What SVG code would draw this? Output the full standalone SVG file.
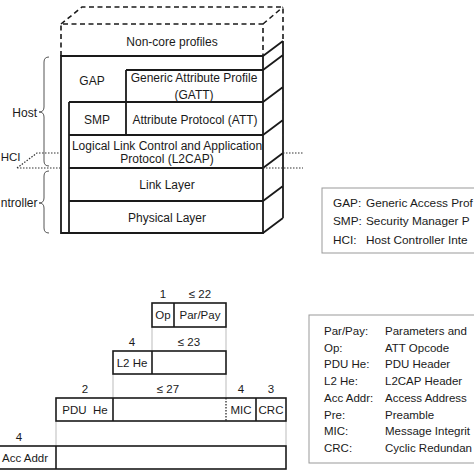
<svg xmlns="http://www.w3.org/2000/svg" width="474" height="474" viewBox="0 0 474 474">
<style>
text{font-family:"Liberation Sans",Arial,sans-serif;font-size:12px;fill:#1a1a1a;}
.c{text-anchor:middle;}
.e{text-anchor:end;}
.s{font-size:11.5px;}
.l1{font-size:11.8px;}
.ln{stroke:#1a1a1a;stroke-width:1.8;fill:none;}
.dash{stroke:#1a1a1a;stroke-width:1.6;fill:none;stroke-dasharray:5,3.5;}
.dot{stroke:#333;stroke-width:1.2;fill:none;stroke-dasharray:1.5,1.5;}
.brace{stroke:#555;stroke-width:1;fill:none;}
.guide{stroke:#aaa;stroke-width:0.8;fill:none;}
.box{stroke:#1a1a1a;stroke-width:1.6;fill:#fff;}
.leg{stroke:#999;stroke-width:1;fill:#fff;}
</style>
<g id="stack">
<g id="noncore">
<path class="dash" d="M61,56 V24 H263 V56"/>
<path class="dash" d="M61,24 L82,7 H283 V41 M263,24 L283,7"/>
<text class="c" x="172" y="46">Non-core profiles</text>
</g>
<g id="frame">
<path class="ln" d="M61,56 H263 V233 H61 Z"/>
<path class="ln" d="M69,102 V233"/>
<path class="ln" d="M263,56 l20,-15 M263,70 l20,-15 M263,102 l20,-15 M263,135 l20,-15 M263,168 l20,-15 M263,201 l20,-15 M263,233 l20,-15 M283,41 V218"/>
</g>
<g id="gap"><text class="c" x="92" y="85">GAP</text></g>
<g id="gatt">
<path class="ln" d="M126,70 H263 M126,70 V102"/>
<text class="c" x="194" y="82">Generic Attribute Profile</text>
<text class="c" x="194" y="99">(GATT)</text>
</g>
<g id="smp">
<path class="ln" d="M69,102 H263 M126,102 V135"/>
<text class="c" x="97" y="124">SMP</text>
</g>
<g id="att"><text class="c" x="195" y="124">Attribute Protocol (ATT)</text></g>
<g id="l2cap">
<path class="ln" d="M69,135 H263"/>
<text class="c" x="167" y="150">Logical Link Control and Application</text>
<text class="c" x="167" y="163">Protocol (L2CAP)</text>
</g>
<g id="linklayer">
<path class="ln" d="M69,168 H263"/>
<text class="c" x="167" y="189">Link Layer</text>
</g>
<g id="physical">
<path class="ln" d="M69,201 H263"/>
<text class="c" x="167" y="222">Physical Layer</text>
</g>
</g>
<g id="host">
<path class="brace" d="M49,57 Q44,57 44,62 V107 Q44,112 39,112 Q44,112 44,117 V161 Q44,166 49,166"/>
<text class="e" x="37" y="117">Host</text>
</g>
<g id="controller">
<path class="brace" d="M49,171 Q44,171 44,176 V198 Q44,203 39,203 Q44,203 44,208 V228 Q44,233 49,233"/>
<text class="e" x="37.5" y="207">ntroller</text>
</g>
<g id="hci">
<path class="dot" d="M17,168 H61 M17,168 L37,153 H59 M283,153 H303 M263,168 H303"/>
<text class="e s" x="20.5" y="161">HCI</text>
</g>
<g id="legend1">
<rect class="leg" x="322" y="188" width="170" height="65"/>
<text class="l1" x="333" y="207">GAP:</text><text class="l1" x="366" y="207">Generic Access Prof</text>
<text class="l1" x="333" y="225">SMP:</text><text class="l1" x="366" y="225">Security Manager P</text>
<text class="l1" x="333" y="244">HCI:</text><text class="l1" x="366" y="244">Host Controller Inte</text>
</g>
<g id="legend2">
<rect class="leg" x="309" y="315" width="180" height="148"/>
<text class="s" x="324" y="335">Par/Pay:</text><text class="s" x="385" y="335">Parameters and</text>
<text class="s" x="324" y="351.7">Op:</text><text class="s" x="385" y="351.7">ATT Opcode</text>
<text class="s" x="324" y="368.4">PDU He:</text><text class="s" x="385" y="368.4">PDU Header</text>
<text class="s" x="324" y="385.1">L2 He:</text><text class="s" x="385" y="385.1">L2CAP Header</text>
<text class="s" x="324" y="401.8">Acc Addr:</text><text class="s" x="385" y="401.8">Access Address</text>
<text class="s" x="324" y="418.5">Pre:</text><text class="s" x="385" y="418.5">Preamble</text>
<text class="s" x="324" y="435.2">MIC:</text><text class="s" x="385" y="435.2">Message Integrit</text>
<text class="s" x="324" y="451.9">CRC:</text><text class="s" x="385" y="451.9">Cyclic Redundan</text>
</g>
<g id="connectors">
<path class="guide" d="M152,327 V351 M226,327 V351 M113,374 V398 M226,374 V398 M56,421 V446 M286,421 V446"/>
</g>
<g id="att-pdu">
<rect class="box" x="152" y="303" width="74" height="24"/>
<path class="ln" d="M174,303 V327" style="stroke-width:1.6"/>
<text class="c s" x="163" y="298">1</text><text class="c s" x="200" y="298">≤ 22</text>
<text class="c s" x="163" y="319">Op</text><text class="c s" x="200" y="319">Par/Pay</text>
</g>
<g id="l2cap-pdu">
<rect class="box" x="113" y="351" width="113" height="23"/>
<path class="ln" d="M152,351 V374" style="stroke-width:1.6"/>
<text class="c s" x="132" y="346">4</text><text class="c s" x="189" y="346">≤ 23</text>
<text class="c s" x="132" y="367">L2 He</text>
</g>
<g id="ll-pdu">
<rect class="box" x="56" y="398" width="230" height="23"/>
<path class="ln" d="M113,398 V421 M256,398 V421" style="stroke-width:1.6"/>
<path class="dot" d="M226,398 V421" style="stroke:#1a1a1a"/>
<text class="c s" x="85" y="393">2</text><text class="c s" x="168" y="393">≤ 27</text><text class="c s" x="241" y="393">4</text><text class="c s" x="271" y="393">3</text>
<text class="c s" x="85" y="414" style="white-space:pre">PDU  He</text>
<text class="c s" x="241" y="414">MIC</text><text class="c s" x="271" y="414">CRC</text>
</g>
<g id="ll-packet">
<rect class="box" x="-20" y="446" width="306" height="23"/>
<path class="ln" d="M56,446 V469" style="stroke-width:1.6"/>
<text class="c s" x="19" y="441">4</text>
<text class="c s" x="25" y="462">Acc Addr</text>
</g>
</svg>
